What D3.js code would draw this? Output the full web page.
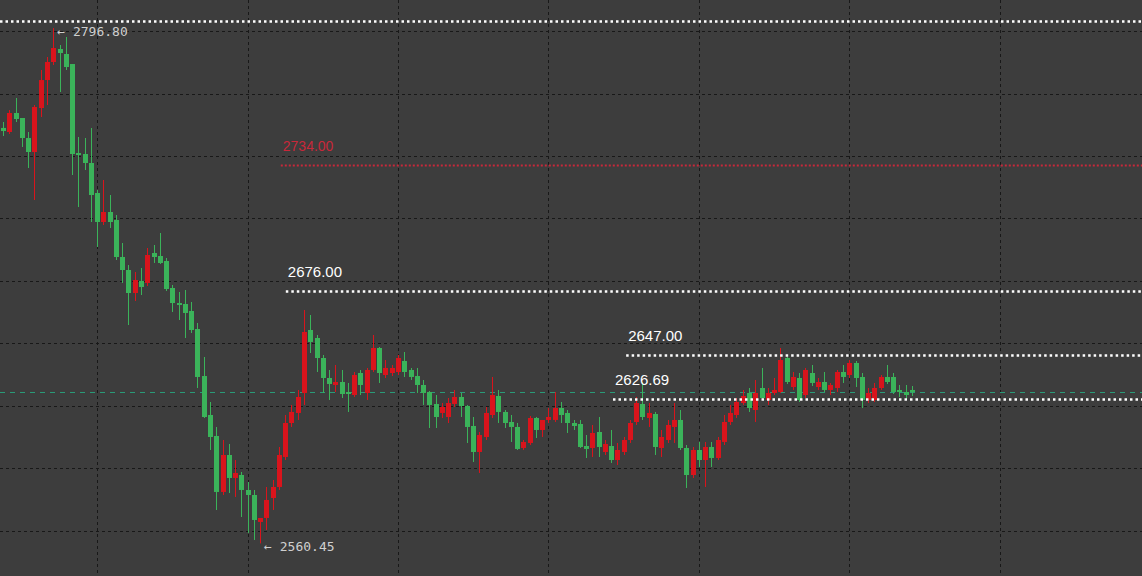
<!DOCTYPE html>
<html><head><meta charset="utf-8">
<script src="https://cdn.jsdelivr.net/npm/d3@7"></script>
<style>html,body{margin:0;padding:0;background:#3d3d3d;overflow:hidden}</style>
</head><body><svg id="chart" width="1142" height="576"></svg>
<script>
const opens = [2751.0,2749.13,2757.85,2755.56,2746.38,2739.96,2760.14,2772.98,2781.24,2787.20,2784.91,2780.32,2739.50,2739.05,2734.92,2721.16,2707.86,2712.45,2708.78,2691.81,2685.85,2675.30,2680.81,2679.89,2693.64,2692.27,2689.98,2677.59,2670.71,2670.26,2667.05,2658.79,2637.23,2619.35,2609.72,2584.04,2601.01,2590.46,2591.83,2584.96,2582.66,2570.28,2572.12,2581.29,2586.33,2600.09,2615.68,2620.27,2629.44,2658.33,2654.66,2645.49,2636.32,2633.11,2634.48,2629.90,2628.52,2638.61,2629.44,2639.99,2650.08,2637.69,2638.61,2639.07,2644.12,2639.99,2637.23,2633.11,2629.90,2624.40,2620.27,2618.43,2624.40,2627.61,2623.48,2614.31,2602.38,2609.26,2619.35,2628.06,2620.73,2616.14,2613.85,2604.22,2606.51,2617.98,2612.47,2617.06,2617.06,2622.56,2620.27,2615.68,2615.22,2605.13,2604.22,2611.55,2602.38,2605.13,2598.71,2602.38,2607.89,2616.14,2624.40,2617.98,2619.81,2604.22,2607.89,2613.85,2617.06,2604.22,2591.83,2603.30,2598.71,2604.68,2599.63,2606.97,2616.14,2619.35,2624.85,2629.44,2621.64,2631.73,2626.23,2629.44,2629.90,2645.49,2632.19,2636.32,2628.52,2638.61,2632.19,2634.48,2630.82,2631.73,2639.07,2637.69,2643.20,2636.78,2626.23,2626.23,2631.73,2636.78,2636.78,2630.82,2629.90,2630.82];
const highs = [2753.72,2759.22,2764.73,2755.56,2749.13,2761.52,2777.57,2783.53,2796.80,2789.03,2792.70,2780.32,2746.84,2746.38,2750.97,2722.54,2727.12,2720.24,2711.07,2698.23,2688.14,2684.93,2686.77,2695.94,2697.31,2702.82,2691.35,2678.97,2675.76,2676.68,2671.17,2661.54,2645.95,2625.31,2613.85,2607.89,2606.05,2598.71,2593.21,2588.62,2584.96,2572.12,2586.33,2589.54,2604.68,2619.35,2623.94,2630.82,2667.50,2665.21,2656.04,2646.87,2639.99,2642.28,2639.99,2634.03,2639.07,2639.99,2640.91,2656.04,2650.54,2644.57,2642.28,2646.87,2648.24,2640.91,2640.91,2635.40,2630.36,2628.52,2624.85,2627.15,2630.82,2629.44,2623.94,2618.43,2611.55,2623.02,2636.78,2630.82,2621.64,2619.35,2615.68,2607.89,2618.89,2618.43,2617.06,2622.56,2629.90,2625.31,2621.64,2617.06,2617.06,2610.18,2614.76,2618.43,2607.89,2612.47,2606.51,2609.26,2617.06,2627.61,2634.48,2624.85,2620.73,2612.47,2617.06,2624.85,2621.64,2605.59,2604.68,2606.97,2606.97,2606.97,2609.26,2619.35,2623.94,2627.15,2630.82,2631.73,2635.40,2640.91,2631.73,2636.32,2650.08,2645.95,2639.07,2638.61,2640.91,2642.28,2636.32,2639.07,2634.03,2639.99,2642.28,2644.57,2644.12,2638.61,2631.73,2634.03,2637.69,2642.28,2638.61,2633.11,2633.11,2632.65];
const lows = [2747.30,2748.22,2753.72,2742.26,2732.63,2717.95,2756.01,2761.52,2779.86,2767.48,2777.57,2729.41,2714.74,2731.71,2707.86,2696.40,2706.48,2705.11,2690.43,2679.89,2660.62,2671.63,2674.38,2678.51,2689.06,2688.60,2676.22,2666.59,2662.92,2654.66,2656.96,2631.73,2617.98,2603.30,2575.78,2582.66,2583.58,2581.75,2572.57,2565.24,2562.03,2560.45,2566.61,2575.78,2584.96,2598.71,2613.85,2617.06,2623.94,2647.78,2639.07,2629.44,2626.23,2629.90,2627.15,2620.73,2627.61,2628.52,2626.23,2639.07,2634.03,2636.32,2637.23,2637.69,2636.78,2635.40,2629.44,2623.94,2613.39,2613.39,2617.98,2615.68,2623.02,2618.43,2606.51,2597.80,2592.75,2607.89,2617.98,2615.68,2613.39,2606.97,2603.30,2603.30,2605.59,2608.80,2609.26,2615.68,2616.14,2615.68,2611.10,2612.47,2604.22,2599.63,2600.09,2600.09,2601.01,2597.34,2596.42,2601.01,2606.51,2614.76,2617.06,2613.85,2601.01,2600.09,2606.51,2606.51,2603.30,2585.87,2590.46,2595.50,2586.33,2595.50,2598.71,2605.59,2614.76,2617.98,2623.94,2620.73,2616.14,2626.23,2623.94,2628.52,2629.44,2633.57,2630.82,2625.31,2627.15,2632.65,2630.82,2629.90,2628.52,2629.90,2634.03,2636.32,2632.19,2622.56,2624.85,2625.31,2630.82,2633.57,2628.98,2627.61,2626.23,2628.06];
const closes = [2749.59,2757.85,2755.10,2746.38,2739.96,2760.60,2772.98,2781.24,2787.66,2785.36,2778.94,2739.05,2738.59,2734.92,2720.24,2707.86,2712.45,2707.86,2691.81,2685.85,2675.30,2681.26,2678.05,2692.73,2691.81,2689.06,2677.13,2670.71,2669.80,2666.13,2658.33,2636.78,2618.43,2609.26,2584.04,2601.01,2590.46,2592.75,2584.96,2582.66,2571.20,2572.12,2580.37,2586.33,2601.01,2615.68,2620.73,2627.61,2657.41,2652.83,2645.49,2636.32,2633.57,2634.48,2628.98,2628.98,2637.69,2633.11,2639.99,2650.08,2638.61,2640.91,2640.91,2645.49,2639.07,2636.78,2633.11,2629.44,2623.94,2618.43,2623.02,2624.85,2627.61,2623.48,2613.85,2602.38,2610.18,2620.27,2628.52,2620.73,2615.68,2613.85,2603.76,2606.97,2617.98,2612.47,2617.06,2618.43,2622.56,2619.35,2615.68,2614.31,2604.68,2603.76,2611.10,2604.68,2606.05,2598.71,2603.30,2607.89,2615.68,2624.85,2618.43,2620.27,2604.68,2609.26,2614.76,2617.06,2604.22,2591.83,2603.30,2598.71,2604.68,2599.63,2607.89,2616.14,2620.27,2625.31,2628.06,2622.56,2629.44,2627.15,2629.44,2630.82,2644.57,2634.48,2636.78,2626.23,2639.99,2634.03,2634.48,2630.82,2633.11,2639.07,2636.78,2643.20,2636.32,2626.23,2629.44,2631.73,2636.78,2634.48,2629.90,2629.90,2628.52,2629.90];

// horizontal price levels drawn on the chart: [price, start bar, label]
const levelPrices = [2800, 2734.00, 2676.00, 2647.00, 2626.69];
const levelStartBars = [-1, 44.3, 45.1, 99.4, 97.3];
const levelLabels = ["", "2734.00", "2676.00", "2647.00", "2626.69"];
const levelKinds = ["white", "red", "white", "white", "white"];

// high / low markers
const markerPrices = [2796.80, 2560.45];
const markerBars = [8, 41];

// grid
const gridPrices = [2795.45, 2766.79, 2738.13, 2709.47, 2680.81, 2652.15, 2623.49, 2594.83, 2566.17];
const gridBars = [15, 39, 63, 87, 111, 135, 159];

const W = 1142, H = 576;
const svg = d3.select("#chart");
svg.append("rect").attr("width", W).attr("height", H).attr("fill", "#3d3d3d");

const x = d3.scaleLinear().domain([-0.5, 181.7]).range([0, W]);
const y = d3.scaleLinear().domain([2560, 2800]).range([544.4, 21.1]);

const UP = "#d9141c", DOWN = "#3bb35a";

// grid
const g = svg.append("g");
g.selectAll("line.h").data(gridPrices).join("line")
  .attr("x1", 0).attr("x2", W)
  .attr("y1", d => Math.round(y(d)) + 0.5).attr("y2", d => Math.round(y(d)) + 0.5)
  .attr("stroke", "#181818").attr("stroke-width", 1).attr("stroke-dasharray", "3,3");
g.selectAll("line.v").data(gridBars).join("line")
  .attr("y1", 0).attr("y2", H)
  .attr("x1", d => Math.round(x(d)) + 0.5).attr("x2", d => Math.round(x(d)) + 0.5)
  .attr("stroke", "#181818").attr("stroke-width", 1).attr("stroke-dasharray", "3,3");

// current price line
const last = closes[closes.length - 1];
svg.append("line").attr("x1", 0).attr("x2", W)
  .attr("y1", Math.round(y(last)) + 0.5).attr("y2", Math.round(y(last)) + 0.5)
  .attr("stroke", "#2a9a78").attr("stroke-width", 1).attr("stroke-dasharray", "5,5");

// candles
const idx = d3.range(opens.length);
const cg = svg.append("g");
const bw = 5;
cg.selectAll("line.wick").data(idx).join("line")
  .attr("x1", i => Math.round(x(i)) + 0.5).attr("x2", i => Math.round(x(i)) + 0.5)
  .attr("y1", i => y(highs[i])).attr("y2", i => y(lows[i]))
  .attr("stroke", i => closes[i] >= opens[i] ? UP : DOWN).attr("stroke-width", 1);
cg.selectAll("rect.body").data(idx).join("rect")
  .attr("x", i => Math.round(x(i)) - 2)
  .attr("width", bw)
  .attr("y", i => y(Math.max(opens[i], closes[i])))
  .attr("height", i => Math.max(1.5, Math.abs(y(opens[i]) - y(closes[i]))))
  .attr("fill", i => closes[i] >= opens[i] ? UP : DOWN);

// level lines
levelPrices.forEach((p, k) => {
  const yy = Math.round(y(p)) + 0.5;
  const x0 = levelStartBars[k] < 0 ? 0 : x(levelStartBars[k]);
  const red = levelKinds[k] === "red";
  svg.append("line").attr("x1", x0).attr("x2", W).attr("y1", yy).attr("y2", yy)
    .attr("stroke", red ? "#c8283a" : "#ffffff")
    .attr("stroke-width", red ? 2 : 2.5)
    .attr("stroke-dasharray", red ? "2,2" : "2.5,3");
  if (levelLabels[k]) {
    svg.append("text").attr("x", x0 + 2).attr("y", yy - (red ? 15 : 15))
      .attr("fill", red ? "#c8283a" : "#ffffff")
      .attr("font-family", "'Liberation Sans', Arial, sans-serif")
      .attr("font-size", red ? 14 : 15)
      .text(levelLabels[k]);
  }
});

// high/low markers
markerPrices.forEach((p, k) => {
  svg.append("text")
    .attr("x", x(markerBars[k]) + 4)
    .attr("y", y(p) + 8)
    .attr("fill", "#cfcfcf")
    .attr("font-family", "'DejaVu Sans Mono', monospace")
    .attr("font-size", 13)
    .text("\u2190 " + p.toFixed(2));
});
</script>
</body></html>
